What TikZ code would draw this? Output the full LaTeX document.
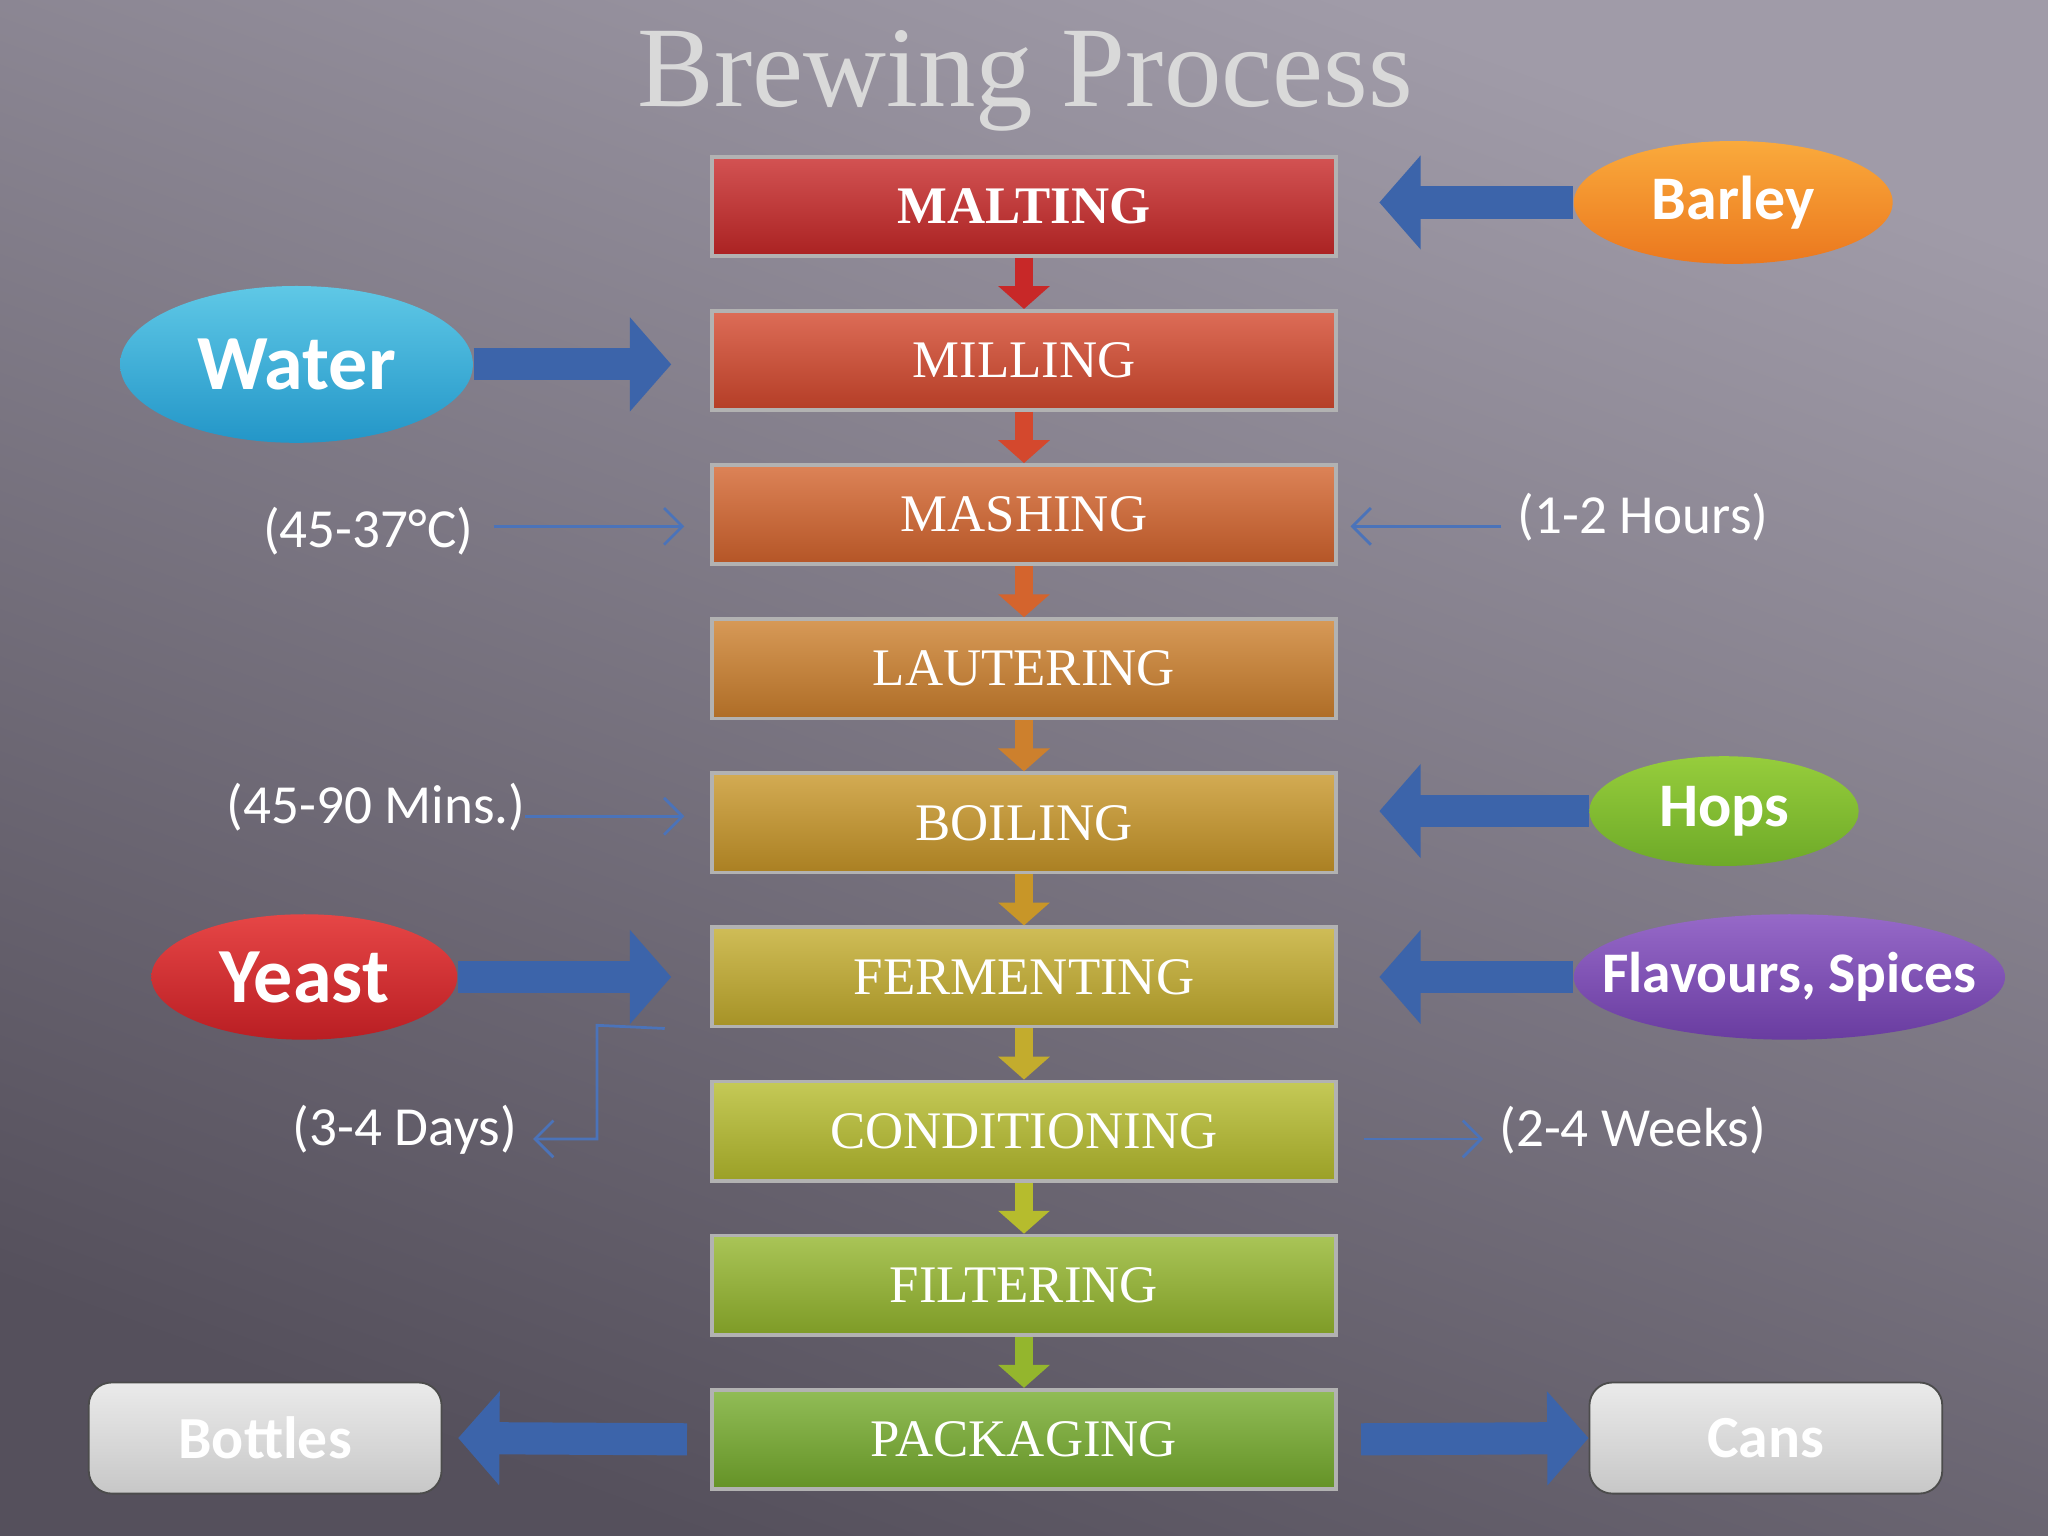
\documentclass[tikz,border=0pt]{standalone}
\usepackage{fontspec}
\setmainfont{Liberation Serif}
\newfontfamily\calib{Carlito}
\usetikzlibrary{arrows.meta,shapes.geometric}
\definecolor{bgdark}{RGB}{85,80,92}
\definecolor{bglight}{RGB}{160,155,168}
\definecolor{bluearr}{RGB}{60,100,170}
\definecolor{thinblue}{RGB}{75,115,185}
\definecolor{watertop}{RGB}{95,200,230}
\definecolor{waterbot}{RGB}{35,150,200}
\definecolor{hopstop}{RGB}{150,205,60}
\definecolor{hopsbot}{RGB}{110,170,40}
\definecolor{barleytop}{RGB}{250,170,60}
\definecolor{barleybot}{RGB}{235,120,30}
\definecolor{yeasttop}{RGB}{230,70,70}
\definecolor{yeastbot}{RGB}{185,30,35}
\definecolor{flavtop}{RGB}{150,105,200}
\definecolor{flavbot}{RGB}{105,60,160}
\tikzset{
  stage/.style={draw=white!70!black, line width=0.8pt, minimum width=4.77cm, minimum height=0.76cm,
    text=white, font=\fontsize{11.5}{11.5}\selectfont},
  ingr/.style={ellipse, draw=none, inner sep=0pt, text=white, font=\calib\bfseries\fontsize{13.5}{13.5}\selectfont},
  pack/.style={draw=black!70, rounded corners=5pt, top color=white!92!black, bottom color=black!22, text=white,
    font=\calib\bfseries\fontsize{13}{13}\selectfont, minimum width=2.7cm, minimum height=0.85cm},
  big/.style={draw=bluearr, line width=7pt, -{Triangle[length=9pt,width=20pt]}},
  down/.style={line width=4pt, -{Triangle[length=5pt,width=11pt]}},
  thin/.style={draw=thinblue, line width=0.6pt, -{Straight Barb[length=4pt]}},
  note/.style={text=white, font=\calib\fontsize{12}{12}\selectfont}
}
\begin{document}
\begin{tikzpicture}[x=0.01cm,y=-0.01cm]
  \useasboundingbox (0,0) rectangle (1568,1176);
  \shade[left color=bglight, right color=bgdark, shading angle=-20] (0,0) rectangle (1568,1176);
  \node[text=white!85!black, font=\fontsize{25}{25}\selectfont] (title) at (785,62) {Brewing Process};

  % process steps
  \def\ystep{118}
  \foreach \name/\label/\col [count=\i from 0] in {
      malting/\textbf{MALTING}/{200,40,40},
      milling/MILLING/{212,72,45},
      mashing/MASHING/{212,100,45},
      lautering/LAUTERING/{205,128,45},
      boiling/BOILING/{200,150,40},
      fermenting/FERMENTING/{195,172,45},
      conditioning/CONDITIONING/{182,188,45},
      filtering/FILTERING/{148,182,45},
      packaging/PACKAGING/{118,172,45}} {
    \xglobal\definecolor{c\i}{RGB}{\col}
    \node[stage, top color=c\i!80!white, bottom color=c\i!85!black] (\name) at (784,158+\i*\ystep) {\label};
  }
  \foreach \a/\b/\c in {malting/milling/0, milling/mashing/1, mashing/lautering/2, lautering/boiling/3,
      boiling/fermenting/4, fermenting/conditioning/5, conditioning/filtering/6, filtering/packaging/7}
    \draw[down, draw=c\c] (\a.south) -- (\b.north);

  % ingredients
  \node[ingr, top color=barleytop, bottom color=barleybot, minimum width=2.44cm, minimum height=0.94cm] (barley) at (1327,155) {Barley};
  \node[ingr, top color=watertop, bottom color=waterbot, minimum width=2.7cm, minimum height=1.2cm, font=\calib\bfseries\fontsize{17}{17}\selectfont] (water) at (227,279) {Water};
  \node[ingr, top color=hopstop, bottom color=hopsbot, minimum width=2.06cm, minimum height=0.84cm] (hops) at (1320,621) {Hops};
  \node[ingr, top color=yeasttop, bottom color=yeastbot, minimum width=2.34cm, minimum height=0.96cm, font=\calib\bfseries\fontsize{17}{17}\selectfont] (yeast) at (233,748) {Yeast};
  \node[ingr, top color=flavtop, bottom color=flavbot, inner xsep=-0.55cm, minimum width=3.3cm, minimum height=0.96cm, font=\calib\bfseries\fontsize{12.5}{12.5}\selectfont] (flavours) at (1370,748) {Flavours, Spices};
  \node[pack] (bottles) at (203,1101) {Bottles};
  \node[pack] (cans) at (1352,1101) {Cans};

  \draw[big] (barley.west) -- ([xshift=0.32cm]malting.east |- barley.west);
  \draw[big] (water.east) -- ([xshift=-0.3cm]milling.west |- water.east);
  \draw[big] (hops.west) -- ([xshift=0.32cm]boiling.east |- hops.west);
  \draw[big] (yeast.east) -- ([xshift=-0.3cm]fermenting.west);
  \draw[big] (flavours.west) -- ([xshift=0.32cm]fermenting.east);
  \draw[big] ([xshift=-0.18cm]packaging.west) -- ([xshift=0.12cm]bottles.east);
  \draw[big] ([xshift=0.18cm]packaging.east) -- (cans.west);

  % notes
  \node[note] (temp) at (282,407) {(45-37\textdegree C)};
  \node[note] (hours) at (1258,396) {(1-2 Hours)};
  \node[note] (mins) at (288,618) {(45-90 Mins.)};
  \node[note] (days) at (310,865) {(3-4 Days)};
  \node[note] (weeks) at (1250,865) {(2-4 Weeks)};
  \coordinate (tempend) at (378,403);
  \coordinate (minsend) at (402,625);
  \draw[thin] (tempend) -- ([xshift=-0.2cm]mashing.west |- tempend);
  \draw[thin] (hours.west |- tempend) -- ([xshift=0.1cm]mashing.east |- tempend);
  \draw[thin] (minsend) -- ([xshift=-0.2cm]boiling.west |- minsend);
  \coordinate (fcorner) at (457,785);
  \draw[thin] ([xshift=-0.35cm]fermenting.south west) -- (fcorner) |- ([yshift=-0.07cm]days.east);
  \draw[thin] ([xshift=0.2cm]conditioning.east |- 0,872) -- (weeks.west |- 0,872);
\end{tikzpicture}
\end{document}
